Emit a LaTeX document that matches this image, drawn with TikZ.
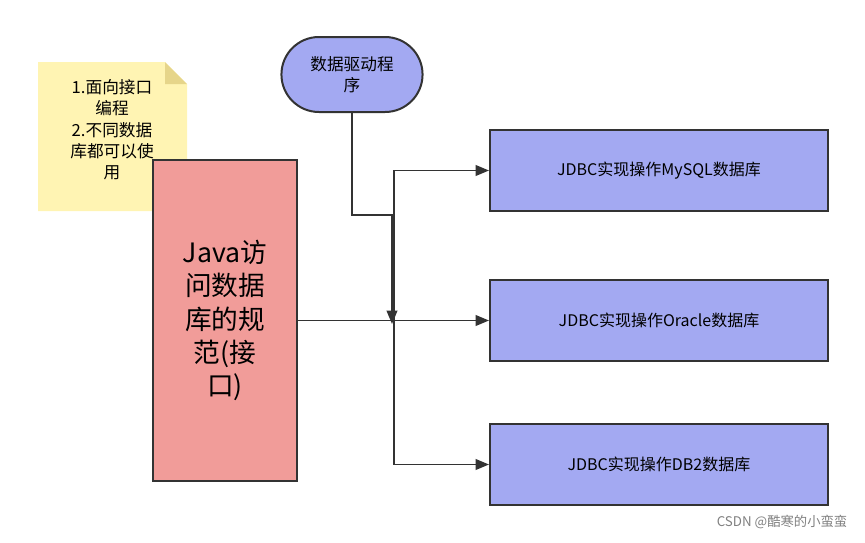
\documentclass[tikz,border=0pt]{standalone}
\usepackage{fontspec}
\setmainfont{Noto Sans CJK SC}
\usetikzlibrary{arrows.meta,shapes.misc}
\definecolor{bl}{HTML}{A3A9F2}
\definecolor{rd}{HTML}{F19C99}
\definecolor{nt}{HTML}{FFF4B3}
\definecolor{ntd}{HTML}{E6D58A}
\definecolor{ln}{HTML}{333333}
\begin{document}
\begin{tikzpicture}[x=0.75pt,y=-0.75pt,
  box/.style={draw=ln,line width=1.5pt,fill=bl,minimum width=338*0.75pt,minimum height=81*0.75pt,font=\fontsize{12}{14}\selectfont},
  conn/.style={draw=ln,line width=1.3pt},
  arr/.style={conn,-{Triangle[length=10pt,width=8pt]}}]
\useasboundingbox (0,0) rectangle (865,543);
% note
\fill[nt] (38,62) -- (165,62) -- (187,84) -- (187,211) -- (38,211) -- cycle;
\fill[ntd] (165,62) -- (165,84) -- (187,84) -- cycle;
\node[align=center,font=\fontsize{12.5}{16}\selectfont] (note) at (112,130) {1.面向接口\\编程\\2.不同数据\\库都可以使\\用};
% red box
\node[draw=ln,line width=1.5pt,fill=rd,minimum width=144*0.75pt,minimum height=321*0.75pt,align=center,font=\fontsize{20}{25}\selectfont] (spec) at (225,320.5) {Java访\\问数据\\库的规\\范(接\\口)};
% driver
\node[draw=ln,line width=1.5pt,fill=bl,rounded rectangle,minimum width=150*0.75pt,minimum height=75*0.75pt,align=center,font=\fontsize{12.5}{16}\selectfont] (drv) at (352,74.5) {数据驱动程\\序};
\node[box] (b1) at (659,170.5) {JDBC实现操作MySQL数据库};
\node[box] (b2) at (659,320.5) {JDBC实现操作Oracle数据库};
\node[box] (b3) at (659,464.5) {JDBC实现操作DB2数据库};
\coordinate (j) at (394,320.5);
\coordinate (d1) at (352,215);
\coordinate (d2) at (392,215);
\coordinate (d3) at (392,324);
\draw[arr] (spec.east) -- (b2.west);
\draw[arr] (j) -- (394,170.5) -- (b1.west);
\draw[arr] (j) -- (394,464.5) -- (b3.west);
\draw[arr] (drv.south) -- (d1) -- (d2) -- (d3);
\node[text=gray,font=\fontsize{10}{12}\selectfont,anchor=east] (wm) at (852,522) {CSDN @酷寒的小蛮蛮};
\end{tikzpicture}
\end{document}
